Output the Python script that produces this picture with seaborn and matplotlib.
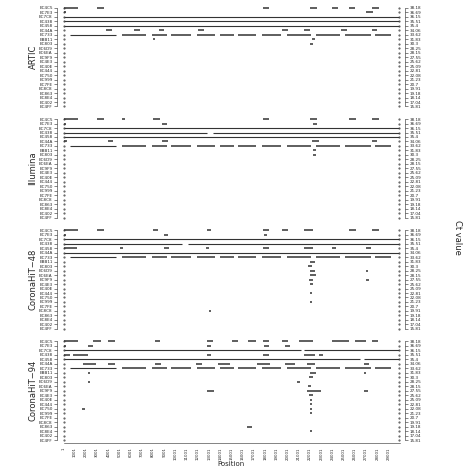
import numpy as np
import matplotlib.pyplot as plt
import seaborn as sns

samples = ['EC4C5', 'EC7E3', 'EC7C8', 'EC438', 'EC458', 'EC44A', 'EC733', 'EBB11',
           'EC803', 'EC6D9', 'EC6EA', 'EC9F9', 'EC4E3', 'EC40E', 'EC444', 'EC750',
           'EC999', 'EC7FE', 'EC8C8', 'EC863', 'EC8E4', 'EC402', 'EC4FF']
ct_values = ['38.18', '36.69', '36.15', '35.51', '35.4', '34.06', '33.62', '31.83',
             '30.3', '28.25', '28.15', '27.55', '25.62', '25.09', '22.81', '22.08',
             '21.23', '20.7', '19.91', '19.18', '18.14', '17.04', '15.81']
genome_len = 29903
tick_pos = [1] + list(range(1001, 30000, 1000))
methods = ['ARTIC', 'Illumina', 'CoronaHiT\u221248', 'CoronaHiT\u221294']

# covered segments per method: (row, start, end)
artic = [(0, 1, 1300), (0, 3000, 3600), (0, 17800, 18300), (0, 22000, 22600), (0, 24000, 24500),
         (0, 25500, 26000), (0, 27500, 28200),
         (1, 1, 200), (1, 27000, 27600),
         (2, 1, 29903), (3, 1, 29903), (4, 1, 29903),
         (5, 3800, 4300), (5, 6300, 6800), (5, 8500, 9000), (5, 12000, 12500), (5, 19500, 20000),
         (5, 21500, 22000), (5, 24800, 25300), (5, 27500, 28000),
         (6, 600, 4700), (6, 5200, 7400), (6, 7900, 9200), (6, 9600, 11400), (6, 11900, 13500),
         (6, 14000, 15200), (6, 15600, 17200), (6, 17700, 19400), (6, 19900, 22100),
         (6, 22500, 24700), (6, 25100, 27400), (6, 27800, 29200),
         (7, 8000, 8200), (7, 22200, 22400), (8, 22000, 22300)]
illumina = [(0, 1, 1300), (0, 3000, 3600), (0, 5200, 5500), (0, 8000, 8600), (0, 17800, 18300),
            (0, 22000, 22600), (0, 25500, 26100), (0, 27500, 28200),
            (1, 1, 200), (1, 8800, 9200), (1, 22300, 22600),
            (2, 1, 29903), (3, 1, 12800), (3, 13300, 29903), (4, 1, 29903),
            (5, 1, 300), (5, 4000, 4400), (5, 8800, 9300), (5, 22200, 22800), (5, 27500, 28000),
            (6, 600, 4700), (6, 5200, 7400), (6, 7900, 9200), (6, 9600, 11400), (6, 11900, 13500),
            (6, 14000, 15200), (6, 15600, 17200), (6, 17700, 19400), (6, 19900, 22100),
            (6, 22500, 24700), (6, 25100, 27400), (6, 27800, 29200),
            (7, 22300, 22500), (8, 22300, 22500)]
hit48 = [(0, 1, 1300), (0, 3000, 3600), (0, 8000, 8400), (0, 12800, 13200), (0, 17800, 18300),
         (0, 19500, 20000), (0, 21500, 22300), (0, 25500, 26100), (0, 27500, 28200),
         (1, 1, 200), (1, 9000, 9300), (1, 17900, 18200),
         (2, 1, 29903), (3, 1, 10600), (3, 11100, 29903),
         (4, 1, 1200), (4, 5000, 5300), (4, 9000, 9400), (4, 12700, 13000), (4, 17800, 18300),
         (4, 21500, 22300), (4, 24000, 24300), (4, 27000, 27400),
         (5, 1, 29903),
         (6, 600, 4700), (6, 5200, 7400), (6, 7900, 9200), (6, 9600, 11400), (6, 11900, 13500),
         (6, 14000, 15200), (6, 15600, 17200), (6, 17700, 19400), (6, 19900, 22100),
         (6, 22500, 24700), (6, 25100, 27400), (6, 27800, 29200),
         (7, 22000, 22400), (8, 21800, 22200), (9, 22000, 22400), (9, 27000, 27200),
         (10, 22000, 22500), (11, 21900, 22300), (11, 27000, 27300), (12, 22000, 22300),
         (14, 22000, 22200), (16, 22000, 22200), (18, 13000, 13200)]
hit94 = [(0, 1, 1300), (0, 2600, 3300), (0, 4000, 4600), (0, 8200, 8600), (0, 12800, 13300),
         (0, 15000, 15600), (0, 16500, 17200), (0, 17800, 18300), (0, 19500, 20000),
         (0, 21000, 22300), (0, 24000, 25500), (0, 26000, 27000), (0, 27500, 28100),
         (1, 1, 200), (1, 2200, 2600), (1, 12800, 13200), (1, 17900, 18300), (1, 19800, 20200),
         (2, 1, 21200), (2, 21500, 29903),
         (3, 1, 600), (3, 800, 2200), (3, 12800, 13200), (3, 17800, 18300), (3, 21500, 22400),
         (3, 22800, 23200),
         (4, 1, 26500), (4, 26800, 29903),
         (5, 1700, 2900), (5, 4000, 4600), (5, 8200, 8700), (5, 11800, 12400), (5, 13800, 14900),
         (5, 17300, 18400), (5, 19800, 20700), (5, 21700, 22400), (5, 26800, 27300),
         (6, 600, 4700), (6, 5200, 7400), (6, 7900, 9200), (6, 9600, 11400), (6, 11900, 13500),
         (6, 14000, 15200), (6, 15600, 17200), (6, 17700, 19400), (6, 19900, 22100),
         (6, 22500, 24700), (6, 25100, 27400), (6, 27800, 29200),
         (7, 2200, 2400), (7, 22000, 22500), (7, 26800, 27000),
         (8, 21900, 22300), (9, 2200, 2400), (9, 20800, 21100), (10, 21800, 22100),
         (11, 12800, 13400), (11, 21700, 23000), (11, 26800, 27200), (12, 21900, 22300),
         (13, 22000, 22200), (14, 22000, 22200), (15, 1600, 1900), (15, 22000, 22200),
         (16, 22000, 22200), (19, 16400, 16800), (20, 22000, 22200)]
coverage = [artic, illumina, hit48, hit94]

sns.set_style('white')
fig = plt.figure(figsize=(4.74, 4.74), dpi=100)
gs = fig.add_gridspec(4, 1, left=0.12, right=0.855, top=0.99, bottom=0.065, hspace=0.06)
n = len(samples)
for i, (name, segs) in enumerate(zip(methods, coverage)):
    ax = fig.add_subplot(gs[i])
    for r, s, e in segs:
        ax.hlines(r, s, e, color='#333333', lw=0.8 if e - s > 3000 else 1.1)
    ax.scatter([1] * n, range(n), s=0.3, color='#555555')
    ax.scatter([genome_len] * n, range(n), s=0.3, color='#555555')
    ax.set_ylim(n - 0.3, -0.7)
    ax.set_xlim(-600, genome_len + 600)
    ax.set_yticks(range(n))
    ax.set_yticklabels(samples, fontsize=3)
    ax.set_ylabel(name, fontsize=6, labelpad=1)
    ax.tick_params(length=2, width=0.4, pad=1)
    for sp in ax.spines.values():
        sp.set_visible(False)
    ax.spines['left'].set_visible(True)
    ax.spines['left'].set_linewidth(0.4)
    ax.spines['left'].set_bounds(0, n - 1)
    ax2 = ax.twinx()
    ax2.set_ylim(ax.get_ylim())
    ax2.set_yticks(range(n))
    ax2.set_yticklabels(ct_values, fontsize=3)
    ax2.tick_params(length=2, width=0.4, pad=1)
    for sp in ax2.spines.values():
        sp.set_visible(False)
    ax2.spines['right'].set_visible(True)
    ax2.spines['right'].set_linewidth(0.4)
    ax2.spines['right'].set_bounds(0, n - 1)
    if i == 3:
        ax.set_xticks(tick_pos)
        ax.set_xticklabels(tick_pos, rotation=90, fontsize=2.8)
        ax.spines['bottom'].set_visible(True)
        ax.spines['bottom'].set_linewidth(0.4)
        ax.spines['bottom'].set_bounds(1, 30001)
        ax.set_xlabel('Position', fontsize=5, labelpad=1)
    else:
        ax.set_xticks([])
fig.text(0.965, 0.5, 'Ct value', rotation=-90, va='center', ha='center', fontsize=6)
fig.savefig('out.png', dpi=100)
